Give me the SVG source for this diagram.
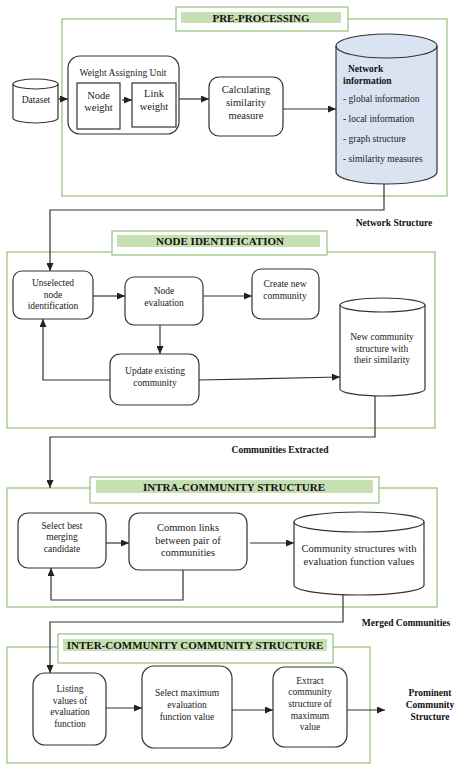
<svg xmlns="http://www.w3.org/2000/svg" width="474" height="764" viewBox="0 0 474 764">
<defs>
<style>
.sec{fill:none;stroke:#9cc585;stroke-width:1.3}
.ttl{fill:#fff;stroke:#9cc585;stroke-width:1.3}
.tfill{fill:#c6e0b4}
.tt{font-family:"Liberation Serif",serif;font-weight:bold;font-size:11px;text-anchor:middle;fill:#111}
.box{fill:#fff;stroke:#333;stroke-width:1.2}
.t{font-family:"Liberation Serif",serif;font-size:9.5px;text-anchor:middle;fill:#222}
.tl{font-family:"Liberation Serif",serif;font-size:9.5px;fill:#222}
.big{font-size:10.5px}
.b{font-weight:bold;fill:#111}
.c{fill:none;stroke:#333;stroke-width:1.2;marker-end:url(#ah)}
.cn{fill:none;stroke:#333;stroke-width:1.2}
</style>
<marker id="ah" markerUnits="userSpaceOnUse" markerWidth="8" markerHeight="7" refX="8" refY="3.5" orient="auto">
<path d="M0,0 L8,3.5 L0,7 Z" fill="#222"/>
</marker>
</defs>
<rect width="474" height="764" fill="#fff"/>

<!-- sections -->
<g id="sec-pre">
<rect class="sec" x="62" y="19" width="385" height="177"/>
<rect class="ttl" x="176" y="7" width="172" height="24"/>
<rect class="tfill" x="181" y="12" width="160" height="11"/>
<text class="tt" x="261" y="21.5">PRE-PROCESSING</text>
</g>
<g id="sec-node">
<rect class="sec" x="7" y="252" width="428" height="176"/>
<rect class="ttl" x="112" y="231" width="215" height="24"/>
<rect class="tfill" x="117" y="235" width="203" height="12"/>
<text class="tt" x="220" y="245">NODE IDENTIFICATION</text>
</g>
<g id="sec-intra">
<rect class="sec" x="7" y="488" width="430" height="119"/>
<rect class="ttl" x="90" y="477" width="289" height="26"/>
<rect class="tfill" x="96" y="480" width="277" height="13"/>
<text class="tt" x="234" y="490.5">INTRA-COMMUNITY STRUCTURE</text>
</g>
<g id="sec-inter">
<rect class="sec" x="7" y="647" width="363" height="116"/>
<rect class="ttl" x="58" y="634" width="275" height="29"/>
<rect class="tfill" x="63" y="639" width="264" height="12"/>
<text class="tt" x="195" y="649">INTER-COMMUNITY COMMUNITY STRUCTURE</text>
</g>

<!-- nodes -->
<g id="dataset">
<path class="box" d="M13,84 A22.5,5 0 0 1 58,84 V118 A22.5,5 0 0 1 13,118 Z"/>
<path class="cn" d="M13,84 A22.5,5 0 0 0 58,84"/>
<text class="t" x="36" y="103">Dataset</text>
</g>
<g id="weight-unit">
<rect class="box" x="68" y="56" width="111" height="78" rx="12"/>
<text class="t" x="123" y="76">Weight Assigning Unit</text>
</g>
<g id="node-weight">
<rect class="box" x="77" y="83" width="43" height="46"/>
<text class="t big" x="98.5" y="99">Node</text>
<text class="t big" x="98.5" y="111">weight</text>
</g>
<g id="link-weight">
<rect class="box" x="132" y="83" width="44" height="44"/>
<text class="t big" x="154" y="97">Link</text>
<text class="t big" x="154" y="110">weight</text>
</g>
<g id="calc">
<rect class="box" x="209" y="77" width="74" height="59" rx="10"/>
<text class="t big" x="246" y="93">Calculating</text>
<text class="t big" x="246" y="106">similarity</text>
<text class="t big" x="246" y="119">measure</text>
</g>
<g id="network-info">
<path d="M336,46 A50.5,12 0 0 1 437,46 V172 A50.5,12 0 0 1 336,172 Z" fill="#dae3f2" stroke="#333" stroke-width="1.2"/>
<path class="cn" d="M336,46 A50.5,12 0 0 0 437,46"/>
<text class="tl b" x="348" y="72">Network</text>
<text class="tl b" x="343" y="84">information</text>
<text class="tl" x="343" y="102">- global information</text>
<text class="tl" x="343" y="122">- local information</text>
<text class="tl" x="343" y="142">- graph structure</text>
<text class="tl" x="343" y="162">- similarity measures</text>
</g>
<g id="unselected">
<rect class="box" x="13" y="271" width="80" height="48" rx="9"/>
<text class="t" x="53" y="286">Unselected</text>
<text class="t" x="53" y="298">node</text>
<text class="t" x="53" y="309">identification</text>
</g>
<g id="node-eval">
<rect class="box" x="125" y="277" width="78" height="48" rx="9"/>
<text class="t" x="164" y="294">Node</text>
<text class="t" x="164" y="306">evaluation</text>
</g>
<g id="create-new">
<rect class="box" x="252" y="269" width="67" height="50" rx="9"/>
<text class="t" x="285" y="287">Create new</text>
<text class="t" x="285" y="299">community</text>
</g>
<g id="update">
<rect class="box" x="110" y="354" width="89" height="51" rx="10"/>
<text class="t" x="155" y="374">Update existing</text>
<text class="t" x="155" y="386">community</text>
</g>
<g id="new-community">
<path class="box" d="M340,305 A42.5,7 0 0 1 425,305 V389 A42.5,7 0 0 1 340,389 Z"/>
<path class="cn" d="M340,305 A42.5,7 0 0 0 425,305"/>
<text class="t" x="382" y="340">New community</text>
<text class="t" x="382" y="352">structure with</text>
<text class="t" x="382" y="363">their similarity</text>
</g>
<g id="select-best">
<rect class="box" x="18" y="513" width="88" height="55" rx="10"/>
<text class="t" x="62" y="529">Select best</text>
<text class="t" x="62" y="540">merging</text>
<text class="t" x="62" y="552">candidate</text>
</g>
<g id="common-links">
<rect class="box" x="129" y="513" width="118" height="57" rx="10"/>
<text class="t big" x="188" y="531">Common links</text>
<text class="t big" x="188" y="544">between pair of</text>
<text class="t big" x="188" y="556">communities</text>
</g>
<g id="community-structures">
<path class="box" d="M294,522 A65,10 0 0 1 424,522 V585 A65,10 0 0 1 294,585 Z"/>
<path class="cn" d="M294,522 A65,10 0 0 0 424,522"/>
<text class="t big" x="359" y="552">Community structures with</text>
<text class="t big" x="359" y="565">evaluation function values</text>
</g>
<g id="listing">
<rect class="box" x="33" y="673" width="73" height="72" rx="12"/>
<text class="t" x="70" y="692">Listing</text>
<text class="t" x="70" y="704">values of</text>
<text class="t" x="70" y="715">evaluation</text>
<text class="t" x="70" y="727">function</text>
</g>
<g id="select-max">
<rect class="box" x="142" y="666" width="90" height="82" rx="12"/>
<text class="t" x="187" y="696">Select maximum</text>
<text class="t" x="187" y="708">evaluation</text>
<text class="t" x="187" y="720">function value</text>
</g>
<g id="extract">
<rect class="box" x="273" y="667" width="74" height="80" rx="12"/>
<text class="t" x="310" y="684">Extract</text>
<text class="t" x="310" y="695">community</text>
<text class="t" x="310" y="707">structure of</text>
<text class="t" x="310" y="719">maximum</text>
<text class="t" x="310" y="730">value</text>
</g>
<g id="prominent">
<text class="t b" x="430" y="696">Prominent</text>
<text class="t b" x="430" y="708">Community</text>
<text class="t b" x="430" y="720">Structure</text>
</g>

<!-- connectors -->
<g id="connectors">
<path class="c" d="M58,99 H68"/>
<path class="c" d="M122,100 H132"/>
<path class="c" d="M179,99 H209"/>
<path class="c" d="M283,109 H336"/>
<path class="c" d="M384,184 V210 H50 V271"/>
<path class="c" d="M93,296 H125"/>
<path class="c" d="M203,296 H252"/>
<path class="c" d="M160,325 V354"/>
<path class="c" d="M110,380 H43 V319"/>
<path class="c" d="M199,380 L340,377"/>
<path class="c" d="M375,396 V437 H50 V488"/>
<path class="c" d="M106,543 H129"/>
<path class="c" d="M250,543 H294"/>
<path class="c" d="M183,570 V600 H51 V568"/>
<path class="c" d="M343,595 V622 H50 V673"/>
<path class="c" d="M106,708 H142"/>
<path class="c" d="M232,710 H273"/>
<path class="c" d="M347,710 H385"/>
<text class="t b" x="394" y="226">Network Structure</text>
<text class="t b" x="280" y="453">Communities Extracted</text>
<text class="t b" x="406" y="626">Merged Communities</text>
</g>
</svg>
